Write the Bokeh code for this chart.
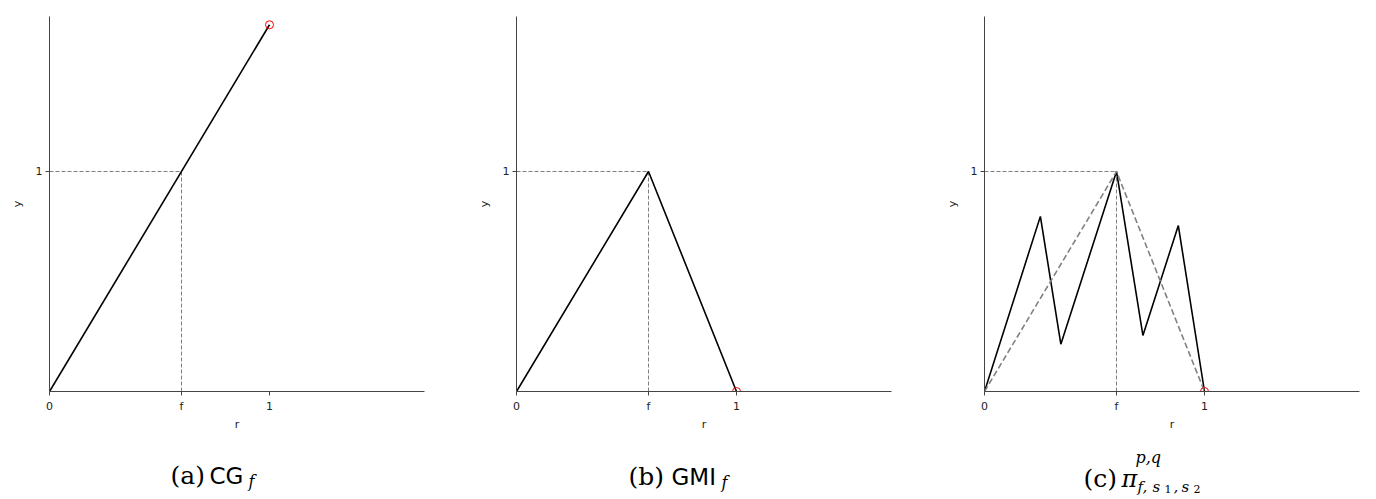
from bokeh.plotting import figure
from bokeh.layouts import row, column
from bokeh.models import Range1d, FixedTicker
from bokeh.core.properties import value
from bokeh.embed import file_html
from bokeh.resources import INLINE

# ---------------- data ----------------
F = 0.6
x_ticks = [0, F, 1]
x_tick_labels = ["0", "f", "1"]
y_ticks = [1]
y_tick_labels = ["1"]

# guide lines (dashed)
guide_h_r = [0.0, F]
guide_h_y = [1.0, 1.0]
guide_v_r = [F, F]
guide_v_y = [0.0, 1.0]

# (a) CG_f
cg_r = [0.0, 1.0]
cg_y = [0.0, 1.667]
cg_open_r = [1.0]
cg_open_y = [1.667]

# (b) GMI_f
gmi_r = [0.0, 0.6, 1.0]
gmi_y = [0.0, 1.0, 0.0]
gmi_open_r = [1.0]
gmi_open_y = [0.0]

# (c) pi^{p,q}_{f,s1,s2}
pi_r = [0.0, 0.254, 0.347, 0.6, 0.72, 0.881, 1.0]
pi_y = [0.0, 0.796, 0.215, 1.0, 0.255, 0.754, 0.0]

XMAX = 1.7045
YMAX = 1.7045

AXIS_COLOR = "#444444"
GUIDE_COLOR = "#808080"


def make_panel(bl, br, bt, bb):
    p = figure(frame_width=375, frame_height=375, output_backend="svg", toolbar_location=None,
               x_range=Range1d(0, XMAX), y_range=Range1d(0, YMAX),
               min_border_left=bl, min_border_right=br,
               min_border_top=bt, min_border_bottom=bb)
    p.outline_line_color = None
    p.grid.visible = False
    p.background_fill_color = "white"
    p.border_fill_color = "white"

    p.xaxis.ticker = FixedTicker(ticks=x_ticks)
    p.xaxis.major_label_overrides = dict(zip(x_ticks, x_tick_labels))
    p.yaxis.ticker = FixedTicker(ticks=y_ticks)
    p.yaxis.major_label_overrides = dict(zip(y_ticks, y_tick_labels))
    for ax in (p.xaxis, p.yaxis):
        ax.axis_line_color = AXIS_COLOR
        ax.axis_line_width = 1
        ax.major_tick_line_color = AXIS_COLOR
        ax.major_tick_out = 4
        ax.major_tick_in = 0
        ax.minor_tick_line_color = None
        ax.major_label_text_font = "DejaVu Sans"
        ax.major_label_text_font_size = "11px"
        ax.major_label_text_color = "#222222"
        ax.axis_label_text_font = "DejaVu Sans"
        ax.axis_label_text_font_size = "11px"
        ax.axis_label_text_font_style = "normal"
        ax.axis_label_text_color = "#222222"
    p.xaxis.axis_label = "r"
    p.xaxis.major_label_standoff = 4
    p.xaxis.axis_label_standoff = 2
    p.yaxis.axis_label = "y"
    p.yaxis.major_label_standoff = 3
    p.yaxis.axis_label_standoff = 9

    p.line(guide_h_r, guide_h_y, line_color=GUIDE_COLOR, line_width=1, line_dash="4 2")
    p.line(guide_v_r, guide_v_y, line_color=GUIDE_COLOR, line_width=1, line_dash="4 2")
    return p


SERIF = "DejaVu Serif"
SANS = "DejaVu Sans"

# ---------------- panel (a) ----------------
pa = make_panel(49, 43, 16, 45)
pa.line(cg_r, cg_y, line_color="black", line_width=1.6)
pa.scatter(cg_open_r, cg_open_y, marker="circle", size=8, fill_color=None,
           line_color="red", line_width=1)

# ---------------- panel (b) ----------------
pb = make_panel(49, 44, 16, 45)
pb.line(gmi_r, gmi_y, line_color="black", line_width=1.6)
pb.scatter(gmi_open_r, gmi_open_y, marker="circle", size=8, fill_color=None,
           line_color="red", line_width=1)

# ---------------- panel (c) ----------------
pc = make_panel(49, 9, 13, 48)
pc.line(pi_r, pi_y, line_color="black", line_width=1.6)
pc.line(gmi_r, gmi_y, line_color=GUIDE_COLOR, line_width=1.6, line_dash="6 3")
pc.scatter(gmi_open_r, gmi_open_y, marker="circle", size=8, fill_color=None,
           line_color="red", line_width=1)

# ---------------- captions (a strip below the panels, page-pixel ranges) ----------------
CAP_TOP = 436
CAP_BOTTOM = 497
cap = figure(width=1368, height=CAP_BOTTOM - CAP_TOP, output_backend="svg", toolbar_location=None,
             x_range=Range1d(0, 1368), y_range=Range1d(CAP_BOTTOM, CAP_TOP),
             x_axis_type=None, y_axis_type=None,
             min_border_left=0, min_border_right=0, min_border_top=0, min_border_bottom=0)
cap.outline_line_color = None
cap.grid.visible = False

caption_pieces = [
    ("(a)", 170, 475, SERIF, "25px", "normal"),
    ("CG", 209, 475, SANS, "23px", "normal"),
    ("f", 248, 481, SERIF, "16px", "italic"),
    ("(b)", 628, 476, SERIF, "25px", "normal"),
    ("GMI", 671, 476, SANS, "23px", "normal"),
    ("f", 721, 482, SERIF, "16px", "italic"),
    ("(c)", 1083, 478, SERIF, "25px", "normal"),
    ("π", 1121, 478, SERIF, "24px", "italic"),
    ("p,q", 1135, 457, SERIF, "16px", "italic"),
    ("f,", 1137, 486, SERIF, "15px", "italic"),
    ("s", 1152, 486, SERIF, "15px", "italic"),
    ("1", 1164, 488, SERIF, "11px", "normal"),
    (",", 1173, 486, SERIF, "15px", "italic"),
    ("s", 1181, 486, SERIF, "15px", "italic"),
    ("2", 1193, 488, SERIF, "11px", "normal"),
]
for text, px, py, font, size, style in caption_pieces:
    cap.text(x=[px], y=[py], text=[text], text_font=value(font), text_font_size=size,
             text_font_style=style, text_color="black", text_align="left",
             text_baseline="alphabetic")

layout = column(row(pa, pb, pc), cap)
open("out.html", "w").write(file_html(layout, INLINE))
